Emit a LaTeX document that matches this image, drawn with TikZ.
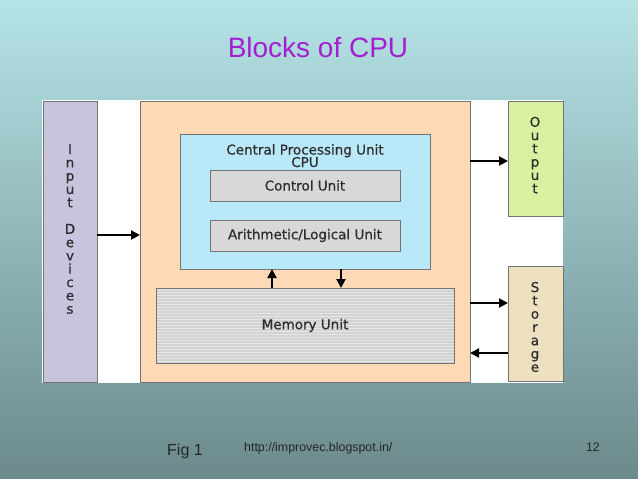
\documentclass[tikz,border=0pt]{standalone}
\usepackage{fontspec}
\setmainfont{Liberation Sans}
\newfontfamily\diag[FakeBold=0.6]{DejaVu Sans}
\usetikzlibrary{arrows.meta,patterns}
\definecolor{bgtop}{RGB}{181,227,230}
\definecolor{bgbot}{RGB}{108,138,140}
\definecolor{ttl}{RGB}{163,31,208}
\definecolor{inbox}{RGB}{200,196,222}
\definecolor{peach}{RGB}{253,217,181}
\definecolor{cpublue}{RGB}{185,233,248}
\definecolor{unitgray}{RGB}{216,216,216}
\definecolor{memgray}{RGB}{210,210,210}
\definecolor{outgreen}{RGB}{217,240,160}
\definecolor{storbeige}{RGB}{237,224,192}
\definecolor{edge}{RGB}{115,115,115}
\definecolor{txt}{RGB}{45,45,45}
\tikzset{
  blk/.style={draw=edge, line width=0.9pt, anchor=north west, inner sep=0pt, outer sep=0pt},
  lbl/.style={text=txt, font=\diag\fontsize{13.5}{15}\selectfont, inner sep=0pt},
  vlbl/.style={text=txt, font=\diag\fontsize{13.5}{13.3}\selectfont, align=center, inner sep=0pt},
  arr/.style={line width=2pt, -{Triangle[length=9pt,width=9pt]}},
}
\begin{document}
\begin{tikzpicture}[x=1pt,y=-1pt]
\useasboundingbox (0,0) rectangle (638,479);
\shade[top color=bgtop, bottom color=bgbot] (0,0) rectangle (638,479);
\node[font=\fontsize{28}{30}\selectfont, text=ttl, anchor=base, inner sep=0pt] (title) at (318,57) {Blocks of CPU};
% white backdrop
\fill[white] (42,100) rectangle (563,383);
% boxes
\node[blk, fill=inbox, minimum width=54pt, minimum height=281pt] (input) at (43,101) {};
\node[blk, fill=peach, minimum width=330pt, minimum height=281pt] (core) at (140,101) {};
\node[blk, fill=cpublue, minimum width=250pt, minimum height=135pt] (cpu) at (180,134) {};
\node[blk, fill=unitgray, minimum width=190pt, minimum height=31pt] (cu) at (210,170) {};
\node[blk, fill=unitgray, minimum width=190pt, minimum height=31pt] (alu) at (210,220) {};
\node[blk, fill=memgray, minimum width=298pt, minimum height=75pt] (mem) at (156,288) {};
\fill[pattern=horizontal lines, pattern color=white!45!memgray] (mem.north west) rectangle (mem.south east);
\draw[edge, line width=0.9pt] (mem.north west) rectangle (mem.south east);
\node[blk, fill=outgreen, minimum width=55pt, minimum height=115pt] (out) at (508,101) {};
\node[blk, fill=storbeige, minimum width=55pt, minimum height=115pt] (stor) at (508,266) {};
% labels
\node[lbl, anchor=base] (cpul1) at (305,154.5) {Central Processing Unit};
\node[lbl, anchor=base] (cpul2) at (305,167) {CPU};
\node[lbl] (cul) at (cu.center) {Control Unit};
\node[lbl] (alul) at (alu.center) {Arithmetic/Logical Unit};
\node[lbl] (meml) at (mem.center) {Memory Unit};
\node[vlbl] (inl) at (70,229) {I\\n\\p\\u\\t\\\mbox{}\\D\\e\\v\\i\\c\\e\\s};
\node[vlbl] (outl) at (535,155) {O\\u\\t\\p\\u\\t};
\node[vlbl] (storl) at (535,327) {S\\t\\o\\r\\a\\g\\e};
% arrows
\draw[arr] (input.east |- 0,235) -- (core.west |- 0,235);
\draw[arr] (core.east |- 0,161) -- (out.west |- 0,161);
\draw[arr] (core.east |- 0,303) -- (stor.west |- 0,303);
\draw[arr] (stor.west |- 0,353) -- (core.east |- 0,353);
\draw[arr] (mem.north -| 272,0) -- (cpu.south -| 272,0);
\draw[arr] (cpu.south -| 341,0) -- (mem.north -| 341,0);
% footer
\node[font=\fontsize{16}{18}\selectfont, text=black!85, anchor=base west, inner sep=0pt] (fig) at (167,455) {Fig 1};
\node[font=\fontsize{12.4}{14}\selectfont, text=black!85, anchor=base west, inner sep=0pt] (url) at (244,451) {http://improvec.blogspot.in/};
\node[font=\fontsize{12.4}{14}\selectfont, text=black!85, anchor=base east, inner sep=0pt] (pg) at (600,451) {12};
\end{tikzpicture}
\end{document}
